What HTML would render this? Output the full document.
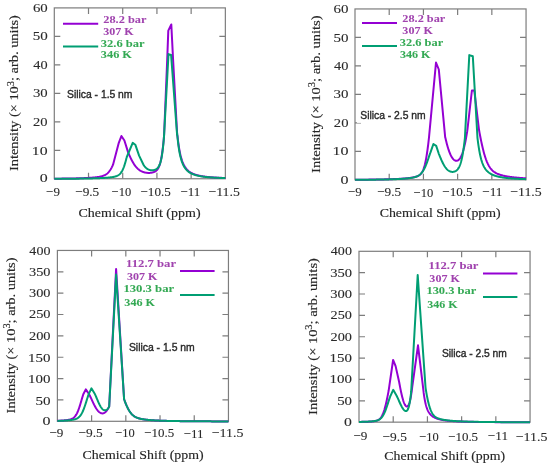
<!DOCTYPE html>
<html><head><meta charset="utf-8"><style>
html,body{margin:0;padding:0;background:#fff;}
svg{display:block;will-change:transform;filter:blur(0.35px);}
text{font-family:"Liberation Serif",serif;}
.t{fill:#2a2a2a;font-size:13.5px;stroke:#2a2a2a;stroke-width:0.1px;}
.lab{fill:#262626;font-size:13.2px;stroke:#262626;stroke-width:0.15px;}
.leg{font-weight:bold;font-size:11.1px;stroke-width:0.05px;}
.sil{fill:#2a2a2a;font-family:"Liberation Sans",sans-serif;font-size:11.6px;stroke:#2a2a2a;stroke-width:0.4px;}
</style></head><body>
<svg width="550" height="465" viewBox="0 0 550 465">
<rect x="54.30" y="7.90" width="171.05" height="170.85" fill="none" stroke="#7d7d7d" stroke-width="1.2"/>
<path d="M54.30 150.28h6M225.35 150.28h-6M54.30 121.80h6M225.35 121.80h-6M54.30 93.33h6M225.35 93.33h-6M54.30 64.85h6M225.35 64.85h-6M54.30 36.38h6M225.35 36.38h-6M88.51 178.75v-6M88.51 7.90v6M122.72 178.75v-6M122.72 7.90v6M156.93 178.75v-6M156.93 7.90v6M191.14 178.75v-6M191.14 7.90v6" stroke="#7d7d7d" stroke-width="1.2" fill="none"/>
<path d="M54.30 178.70 L54.64 178.70 L54.98 178.69 L55.33 178.69 L55.67 178.69 L56.01 178.68 L56.35 178.68 L56.69 178.68 L57.04 178.67 L57.38 178.67 L57.72 178.67 L58.06 178.66 L58.41 178.66 L58.75 178.66 L59.09 178.65 L59.43 178.65 L59.77 178.64 L60.12 178.64 L60.46 178.64 L60.80 178.63 L61.14 178.63 L61.48 178.63 L61.83 178.62 L62.17 178.62 L62.51 178.61 L62.85 178.61 L63.19 178.60 L63.54 178.60 L63.88 178.59 L64.22 178.59 L64.56 178.59 L64.91 178.58 L65.25 178.58 L65.59 178.57 L65.93 178.57 L66.27 178.56 L66.62 178.56 L66.96 178.55 L67.30 178.55 L67.64 178.54 L67.98 178.53 L68.33 178.53 L68.67 178.52 L69.01 178.52 L69.35 178.51 L69.69 178.51 L70.04 178.50 L70.38 178.49 L70.72 178.49 L71.06 178.48 L71.41 178.47 L71.75 178.47 L72.09 178.46 L72.43 178.45 L72.77 178.45 L73.12 178.44 L73.46 178.43 L73.80 178.42 L74.14 178.42 L74.48 178.41 L74.83 178.40 L75.17 178.39 L75.51 178.38 L75.85 178.38 L76.19 178.37 L76.54 178.36 L76.88 178.35 L77.22 178.34 L77.56 178.33 L77.90 178.32 L78.25 178.31 L78.59 178.30 L78.93 178.29 L79.27 178.28 L79.62 178.27 L79.96 178.26 L80.30 178.25 L80.64 178.24 L80.98 178.23 L81.33 178.22 L81.67 178.20 L82.01 178.19 L82.35 178.18 L82.69 178.17 L83.04 178.15 L83.38 178.14 L83.72 178.13 L84.06 178.11 L84.40 178.10 L84.75 178.08 L85.09 178.07 L85.43 178.05 L85.77 178.04 L86.12 178.02 L86.46 178.00 L86.80 177.99 L87.14 177.97 L87.48 177.95 L87.83 177.93 L88.17 177.91 L88.51 177.89 L88.85 177.87 L89.19 177.85 L89.54 177.83 L89.88 177.81 L90.22 177.79 L90.56 177.76 L90.90 177.74 L91.25 177.71 L91.59 177.69 L91.93 177.66 L92.27 177.64 L92.62 177.61 L92.96 177.58 L93.30 177.55 L93.64 177.52 L93.98 177.49 L94.33 177.45 L94.67 177.42 L95.01 177.39 L95.35 177.35 L95.69 177.31 L96.04 177.27 L96.38 177.23 L96.72 177.19 L97.06 177.15 L97.40 177.10 L97.75 177.05 L98.09 177.00 L98.43 176.95 L98.77 176.89 L99.12 176.84 L99.46 176.78 L99.80 176.71 L100.14 176.64 L100.48 176.57 L100.83 176.50 L101.17 176.41 L101.51 176.33 L101.85 176.24 L102.19 176.14 L102.54 176.04 L102.88 175.92 L103.22 175.80 L103.56 175.68 L103.90 175.54 L104.25 175.39 L104.59 175.23 L104.93 175.06 L105.27 174.87 L105.61 174.68 L105.96 174.46 L106.30 174.23 L106.64 173.98 L106.98 173.72 L107.33 173.43 L107.67 173.12 L108.01 172.79 L108.35 172.44 L108.69 172.06 L109.04 171.66 L109.38 171.22 L109.72 170.76 L110.06 170.27 L110.40 169.75 L110.75 169.20 L111.09 168.61 L111.43 168.00 L111.77 167.35 L112.11 166.66 L112.46 165.95 L112.80 165.19 L113.10 164.50 L118.80 142.80 L121.40 136.00 L124.40 140.50 L128.20 152.60 L128.54 153.35 L128.88 154.12 L129.22 154.89 L129.56 155.66 L129.90 156.41 L130.25 157.15 L130.59 157.87 L130.93 158.58 L131.27 159.27 L131.61 159.94 L131.96 160.60 L132.30 161.23 L132.64 161.85 L132.98 162.44 L133.33 163.02 L133.67 163.57 L134.01 164.11 L134.35 164.62 L134.69 165.11 L135.04 165.58 L135.38 166.04 L135.72 166.47 L136.06 166.89 L136.40 167.28 L136.75 167.66 L137.09 168.02 L137.43 168.36 L137.77 168.69 L138.11 169.00 L138.46 169.29 L138.80 169.57 L139.14 169.84 L139.48 170.09 L139.82 170.32 L140.17 170.54 L140.51 170.75 L140.85 170.95 L141.19 171.14 L141.54 171.31 L141.88 171.47 L142.22 171.63 L142.56 171.77 L142.90 171.90 L143.25 172.02 L143.59 172.14 L143.93 172.24 L144.27 172.34 L144.61 172.42 L144.96 172.50 L145.30 172.58 L145.64 172.64 L145.98 172.70 L146.32 172.75 L146.67 172.79 L147.01 172.83 L147.35 172.86 L147.69 172.88 L148.04 172.90 L148.38 172.91 L148.72 172.91 L149.06 172.91 L149.40 172.90 L149.75 172.88 L150.09 172.86 L150.43 172.83 L150.77 172.79 L151.11 172.74 L151.46 172.69 L151.80 172.63 L152.14 172.56 L152.48 172.48 L152.82 172.39 L153.17 172.29 L153.51 172.18 L153.85 172.06 L154.19 171.92 L154.54 171.76 L154.88 171.59 L155.22 171.40 L155.56 171.18 L155.90 170.94 L156.25 170.67 L156.59 170.36 L156.93 170.01 L157.27 169.61 L157.61 169.16 L157.96 168.66 L158.30 168.08 L158.64 167.42 L158.98 166.67 L159.32 165.82 L159.67 164.85 L160.01 163.76 L160.35 162.52 L160.69 161.13 L161.04 159.56 L161.38 157.81 L161.72 155.85 L162.06 153.67 L162.40 151.26 L162.75 148.60 L163.09 145.68 L163.43 142.50 L163.77 139.04 L164.10 135.00 L167.20 60.00 L168.30 30.60 L171.30 24.50 L173.10 60.00 L177.20 135.00 L177.46 135.57 L177.80 138.69 L178.14 141.52 L178.48 144.09 L178.82 146.43 L179.17 148.56 L179.51 150.50 L179.85 152.28 L180.19 153.90 L180.53 155.39 L180.88 156.76 L181.22 158.01 L181.56 159.17 L181.90 160.23 L182.25 161.22 L182.59 162.13 L182.93 162.97 L183.27 163.75 L183.61 164.48 L183.96 165.16 L184.30 165.79 L184.64 166.38 L184.98 166.93 L185.32 167.45 L185.67 167.93 L186.01 168.39 L186.35 168.81 L186.69 169.22 L187.03 169.59 L187.38 169.95 L187.72 170.29 L188.06 170.60 L188.40 170.91 L188.75 171.19 L189.09 171.46 L189.43 171.71 L189.77 171.96 L190.11 172.19 L190.46 172.41 L190.80 172.62 L191.14 172.81 L191.48 173.00 L191.82 173.18 L192.17 173.36 L192.51 173.52 L192.85 173.68 L193.19 173.83 L193.53 173.97 L193.88 174.11 L194.22 174.24 L194.56 174.37 L194.90 174.49 L195.25 174.61 L195.59 174.72 L195.93 174.83 L196.27 174.93 L196.61 175.03 L196.96 175.13 L197.30 175.22 L197.64 175.31 L197.98 175.40 L198.32 175.48 L198.67 175.56 L199.01 175.64 L199.35 175.71 L199.69 175.78 L200.03 175.85 L200.38 175.92 L200.72 175.98 L201.06 176.05 L201.40 176.11 L201.75 176.17 L202.09 176.23 L202.43 176.28 L202.77 176.33 L203.11 176.39 L203.46 176.44 L203.80 176.49 L204.14 176.53 L204.48 176.58 L204.82 176.63 L205.17 176.67 L205.51 176.71 L205.85 176.75 L206.19 176.79 L206.53 176.83 L206.88 176.87 L207.22 176.91 L207.56 176.94 L207.90 176.98 L208.25 177.01 L208.59 177.04 L208.93 177.08 L209.27 177.11 L209.61 177.14 L209.96 177.17 L210.30 177.20 L210.64 177.23 L210.98 177.26 L211.32 177.28 L211.67 177.31 L212.01 177.34 L212.35 177.36 L212.69 177.39 L213.03 177.41 L213.38 177.43 L213.72 177.46 L214.06 177.48 L214.40 177.50 L214.74 177.52 L215.09 177.54 L215.43 177.56 L215.77 177.58 L216.11 177.60 L216.46 177.62 L216.80 177.64 L217.14 177.66 L217.48 177.68 L217.82 177.70 L218.17 177.71 L218.51 177.73 L218.85 177.75 L219.19 177.76 L219.53 177.78 L219.88 177.80 L220.22 177.81 L220.56 177.83 L220.90 177.84 L221.24 177.86 L221.59 177.87 L221.93 177.89 L222.27 177.90 L222.61 177.91 L222.96 177.93 L223.30 177.94 L223.64 177.95 L223.98 177.96 L224.32 177.98 L224.67 177.99 L225.01 178.00 L225.35 178.01" stroke="#9400d3" stroke-width="2" fill="none" stroke-linejoin="round"/>
<path d="M54.30 178.82 L54.64 178.82 L54.98 178.82 L55.33 178.82 L55.67 178.82 L56.01 178.81 L56.35 178.81 L56.69 178.81 L57.04 178.81 L57.38 178.81 L57.72 178.80 L58.06 178.80 L58.41 178.80 L58.75 178.80 L59.09 178.80 L59.43 178.80 L59.77 178.79 L60.12 178.79 L60.46 178.79 L60.80 178.79 L61.14 178.79 L61.48 178.78 L61.83 178.78 L62.17 178.78 L62.51 178.78 L62.85 178.77 L63.19 178.77 L63.54 178.77 L63.88 178.77 L64.22 178.77 L64.56 178.76 L64.91 178.76 L65.25 178.76 L65.59 178.76 L65.93 178.75 L66.27 178.75 L66.62 178.75 L66.96 178.75 L67.30 178.74 L67.64 178.74 L67.98 178.74 L68.33 178.74 L68.67 178.73 L69.01 178.73 L69.35 178.73 L69.69 178.72 L70.04 178.72 L70.38 178.72 L70.72 178.72 L71.06 178.71 L71.41 178.71 L71.75 178.71 L72.09 178.70 L72.43 178.70 L72.77 178.70 L73.12 178.69 L73.46 178.69 L73.80 178.69 L74.14 178.68 L74.48 178.68 L74.83 178.68 L75.17 178.67 L75.51 178.67 L75.85 178.67 L76.19 178.66 L76.54 178.66 L76.88 178.65 L77.22 178.65 L77.56 178.65 L77.90 178.64 L78.25 178.64 L78.59 178.63 L78.93 178.63 L79.27 178.63 L79.62 178.62 L79.96 178.62 L80.30 178.61 L80.64 178.61 L80.98 178.60 L81.33 178.60 L81.67 178.59 L82.01 178.59 L82.35 178.58 L82.69 178.58 L83.04 178.57 L83.38 178.57 L83.72 178.56 L84.06 178.56 L84.40 178.55 L84.75 178.55 L85.09 178.54 L85.43 178.53 L85.77 178.53 L86.12 178.52 L86.46 178.52 L86.80 178.51 L87.14 178.50 L87.48 178.50 L87.83 178.49 L88.17 178.48 L88.51 178.48 L88.85 178.47 L89.19 178.46 L89.54 178.45 L89.88 178.45 L90.22 178.44 L90.56 178.43 L90.90 178.42 L91.25 178.42 L91.59 178.41 L91.93 178.40 L92.27 178.39 L92.62 178.38 L92.96 178.37 L93.30 178.36 L93.64 178.35 L93.98 178.34 L94.33 178.33 L94.67 178.32 L95.01 178.31 L95.35 178.30 L95.69 178.29 L96.04 178.28 L96.38 178.27 L96.72 178.26 L97.06 178.24 L97.40 178.23 L97.75 178.22 L98.09 178.21 L98.43 178.19 L98.77 178.18 L99.12 178.17 L99.46 178.15 L99.80 178.14 L100.14 178.12 L100.48 178.11 L100.83 178.09 L101.17 178.07 L101.51 178.06 L101.85 178.04 L102.19 178.02 L102.54 178.00 L102.88 177.98 L103.22 177.96 L103.56 177.94 L103.90 177.92 L104.25 177.90 L104.59 177.88 L104.93 177.86 L105.27 177.83 L105.61 177.81 L105.96 177.78 L106.30 177.76 L106.64 177.73 L106.98 177.70 L107.33 177.68 L107.67 177.65 L108.01 177.62 L108.35 177.58 L108.69 177.55 L109.04 177.52 L109.38 177.48 L109.72 177.44 L110.06 177.40 L110.40 177.36 L110.75 177.32 L111.09 177.28 L111.43 177.23 L111.77 177.18 L112.11 177.13 L112.46 177.08 L112.80 177.02 L113.14 176.96 L113.48 176.90 L113.83 176.83 L114.17 176.76 L114.51 176.68 L114.85 176.60 L115.19 176.51 L115.54 176.42 L115.88 176.31 L116.22 176.20 L116.56 176.07 L116.90 175.94 L117.25 175.79 L117.59 175.62 L117.93 175.44 L118.27 175.24 L118.61 175.02 L118.96 174.77 L119.30 174.50 L119.64 174.20 L119.98 173.87 L120.33 173.51 L120.67 173.10 L121.01 172.66 L121.35 172.17 L121.69 171.64 L122.04 171.05 L122.38 170.41 L122.72 169.72 L123.06 168.96 L123.40 168.15 L123.75 167.28 L124.09 166.34 L124.43 165.33 L124.77 164.27 L125.11 163.14 L125.46 161.95 L125.80 160.70 L126.14 159.39 L126.48 158.03 L126.60 157.50 L132.70 142.80 L135.30 144.70 L139.10 155.60 L143.60 165.00 L143.93 165.44 L144.27 165.91 L144.61 166.35 L144.96 166.76 L145.30 167.13 L145.64 167.49 L145.98 167.81 L146.32 168.11 L146.67 168.39 L147.01 168.64 L147.35 168.87 L147.69 169.09 L148.04 169.28 L148.38 169.45 L148.72 169.61 L149.06 169.75 L149.40 169.87 L149.75 169.97 L150.09 170.06 L150.43 170.14 L150.77 170.20 L151.11 170.24 L151.46 170.27 L151.80 170.29 L152.14 170.29 L152.48 170.28 L152.82 170.25 L153.17 170.21 L153.51 170.16 L153.85 170.09 L154.19 170.00 L154.54 169.89 L154.88 169.77 L155.22 169.63 L155.56 169.47 L155.90 169.28 L156.25 169.08 L156.59 168.84 L156.93 168.57 L157.27 168.26 L157.61 167.92 L157.96 167.53 L158.30 167.08 L158.64 166.57 L158.98 165.98 L159.32 165.31 L159.67 164.53 L160.01 163.64 L160.35 162.62 L160.69 161.44 L161.04 160.07 L161.38 158.51 L161.72 156.72 L162.06 154.66 L162.40 152.32 L162.75 149.67 L163.09 146.66 L163.43 143.28 L163.77 139.50 L164.10 135.00 L168.50 54.10 L171.10 54.90 L177.10 135.00 L177.11 133.35 L177.46 137.00 L177.80 140.26 L178.14 143.19 L178.48 145.81 L178.82 148.17 L179.17 150.30 L179.51 152.23 L179.85 153.98 L180.19 155.56 L180.53 157.01 L180.88 158.33 L181.22 159.53 L181.56 160.64 L181.90 161.65 L182.25 162.58 L182.59 163.45 L182.93 164.24 L183.27 164.98 L183.61 165.66 L183.96 166.29 L184.30 166.88 L184.64 167.43 L184.98 167.95 L185.32 168.43 L185.67 168.87 L186.01 169.30 L186.35 169.69 L186.69 170.06 L187.03 170.41 L187.38 170.74 L187.72 171.05 L188.06 171.34 L188.40 171.62 L188.75 171.88 L189.09 172.12 L189.43 172.36 L189.77 172.58 L190.11 172.79 L190.46 172.99 L190.80 173.18 L191.14 173.37 L191.48 173.54 L191.82 173.70 L192.17 173.86 L192.51 174.01 L192.85 174.16 L193.19 174.29 L193.53 174.43 L193.88 174.55 L194.22 174.67 L194.56 174.79 L194.90 174.90 L195.25 175.01 L195.59 175.11 L195.93 175.21 L196.27 175.30 L196.61 175.39 L196.96 175.48 L197.30 175.57 L197.64 175.65 L197.98 175.73 L198.32 175.80 L198.67 175.87 L199.01 175.94 L199.35 176.01 L199.69 176.08 L200.03 176.14 L200.38 176.20 L200.72 176.26 L201.06 176.32 L201.40 176.38 L201.75 176.43 L202.09 176.48 L202.43 176.53 L202.77 176.58 L203.11 176.63 L203.46 176.68 L203.80 176.72 L204.14 176.76 L204.48 176.81 L204.82 176.85 L205.17 176.89 L205.51 176.93 L205.85 176.96 L206.19 177.00 L206.53 177.04 L206.88 177.07 L207.22 177.10 L207.56 177.14 L207.90 177.17 L208.25 177.20 L208.59 177.23 L208.93 177.26 L209.27 177.29 L209.61 177.32 L209.96 177.34 L210.30 177.37 L210.64 177.40 L210.98 177.42 L211.32 177.45 L211.67 177.47 L212.01 177.50 L212.35 177.52 L212.69 177.54 L213.03 177.56 L213.38 177.59 L213.72 177.61 L214.06 177.63 L214.40 177.65 L214.74 177.67 L215.09 177.69 L215.43 177.71 L215.77 177.72 L216.11 177.74 L216.46 177.76 L216.80 177.78 L217.14 177.79 L217.48 177.81 L217.82 177.83 L218.17 177.84 L218.51 177.86 L218.85 177.87 L219.19 177.89 L219.53 177.90 L219.88 177.92 L220.22 177.93 L220.56 177.95 L220.90 177.96 L221.24 177.97 L221.59 177.99 L221.93 178.00 L222.27 178.01 L222.61 178.02 L222.96 178.04 L223.30 178.05 L223.64 178.06 L223.98 178.07 L224.32 178.08 L224.67 178.09 L225.01 178.10 L225.35 178.12" stroke="#009e73" stroke-width="2" fill="none" stroke-linejoin="round"/>
<rect x="355.00" y="8.95" width="171.05" height="170.85" fill="none" stroke="#7d7d7d" stroke-width="1.2"/>
<path d="M355.00 151.32h6M526.05 151.32h-6M355.00 122.85h6M526.05 122.85h-6M355.00 94.37h6M526.05 94.37h-6M355.00 65.90h6M526.05 65.90h-6M355.00 37.42h6M526.05 37.42h-6M389.21 179.80v-6M389.21 8.95v6M423.42 179.80v-6M423.42 8.95v6M457.63 179.80v-6M457.63 8.95v6M491.84 179.80v-6M491.84 8.95v6" stroke="#7d7d7d" stroke-width="1.2" fill="none"/>
<path d="M355.00 179.75 L355.34 179.75 L355.68 179.74 L356.03 179.74 L356.37 179.74 L356.71 179.74 L357.05 179.73 L357.39 179.73 L357.74 179.73 L358.08 179.73 L358.42 179.72 L358.76 179.72 L359.11 179.72 L359.45 179.72 L359.79 179.71 L360.13 179.71 L360.47 179.71 L360.82 179.70 L361.16 179.70 L361.50 179.70 L361.84 179.69 L362.18 179.69 L362.53 179.69 L362.87 179.68 L363.21 179.68 L363.55 179.68 L363.89 179.68 L364.24 179.67 L364.58 179.67 L364.92 179.67 L365.26 179.66 L365.61 179.66 L365.95 179.65 L366.29 179.65 L366.63 179.65 L366.97 179.64 L367.32 179.64 L367.66 179.64 L368.00 179.63 L368.34 179.63 L368.68 179.62 L369.03 179.62 L369.37 179.62 L369.71 179.61 L370.05 179.61 L370.39 179.60 L370.74 179.60 L371.08 179.60 L371.42 179.59 L371.76 179.59 L372.11 179.58 L372.45 179.58 L372.79 179.57 L373.13 179.57 L373.47 179.56 L373.82 179.56 L374.16 179.55 L374.50 179.55 L374.84 179.54 L375.18 179.54 L375.53 179.53 L375.87 179.53 L376.21 179.52 L376.55 179.52 L376.89 179.51 L377.24 179.51 L377.58 179.50 L377.92 179.50 L378.26 179.49 L378.60 179.48 L378.95 179.48 L379.29 179.47 L379.63 179.47 L379.97 179.46 L380.32 179.45 L380.66 179.45 L381.00 179.44 L381.34 179.43 L381.68 179.43 L382.03 179.42 L382.37 179.41 L382.71 179.41 L383.05 179.40 L383.39 179.39 L383.74 179.38 L384.08 179.38 L384.42 179.37 L384.76 179.36 L385.10 179.35 L385.45 179.34 L385.79 179.34 L386.13 179.33 L386.47 179.32 L386.82 179.31 L387.16 179.30 L387.50 179.29 L387.84 179.28 L388.18 179.27 L388.53 179.26 L388.87 179.25 L389.21 179.24 L389.55 179.23 L389.89 179.22 L390.24 179.21 L390.58 179.20 L390.92 179.19 L391.26 179.18 L391.60 179.17 L391.95 179.16 L392.29 179.15 L392.63 179.13 L392.97 179.12 L393.32 179.11 L393.66 179.10 L394.00 179.08 L394.34 179.07 L394.68 179.06 L395.03 179.04 L395.37 179.03 L395.71 179.01 L396.05 179.00 L396.39 178.98 L396.74 178.97 L397.08 178.95 L397.42 178.93 L397.76 178.92 L398.10 178.90 L398.45 178.88 L398.79 178.87 L399.13 178.85 L399.47 178.83 L399.82 178.81 L400.16 178.79 L400.50 178.77 L400.84 178.75 L401.18 178.73 L401.53 178.70 L401.87 178.68 L402.21 178.66 L402.55 178.64 L402.89 178.61 L403.24 178.59 L403.58 178.56 L403.92 178.53 L404.26 178.51 L404.60 178.48 L404.95 178.45 L405.29 178.42 L405.63 178.39 L405.97 178.36 L406.31 178.33 L406.66 178.29 L407.00 178.26 L407.34 178.22 L407.68 178.19 L408.03 178.15 L408.37 178.11 L408.71 178.07 L409.05 178.03 L409.39 177.98 L409.74 177.94 L410.08 177.89 L410.42 177.85 L410.76 177.80 L411.10 177.75 L411.45 177.69 L411.79 177.64 L412.13 177.58 L412.47 177.52 L412.81 177.46 L413.16 177.39 L413.50 177.32 L413.84 177.25 L414.18 177.18 L414.53 177.10 L414.87 177.02 L415.21 176.93 L415.55 176.84 L415.89 176.74 L416.24 176.63 L416.58 176.52 L416.92 176.40 L417.26 176.27 L417.60 176.13 L417.95 175.98 L418.29 175.81 L418.63 175.63 L418.97 175.43 L419.31 175.20 L419.66 174.95 L420.00 174.68 L420.34 174.37 L420.68 174.03 L421.03 173.64 L421.37 173.21 L421.71 172.72 L422.05 172.18 L422.39 171.57 L422.74 170.89 L423.08 170.13 L423.42 169.28 L423.76 168.33 L424.10 167.28 L424.45 166.12 L424.79 164.84 L425.13 163.43 L425.47 161.89 L425.81 160.21 L426.16 158.38 L426.50 156.40 L426.84 154.28 L427.18 152.00 L427.53 149.57 L427.87 147.00 L428.21 144.28 L428.55 141.43 L428.89 138.46 L429.00 137.30 L436.00 62.50 L438.80 69.50 L445.20 137.30 L445.31 137.48 L445.66 138.99 L446.00 140.44 L446.34 141.85 L446.68 143.20 L447.02 144.49 L447.37 145.74 L447.71 146.93 L448.05 148.06 L448.39 149.14 L448.74 150.17 L449.08 151.15 L449.42 152.07 L449.76 152.94 L450.10 153.76 L450.45 154.54 L450.79 155.26 L451.13 155.93 L451.47 156.56 L451.81 157.14 L452.16 157.68 L452.50 158.17 L452.84 158.61 L453.18 159.02 L453.52 159.38 L453.87 159.70 L454.21 159.98 L454.55 160.21 L454.89 160.41 L455.24 160.57 L455.58 160.68 L455.92 160.76 L456.26 160.79 L456.60 160.79 L456.95 160.74 L457.29 160.65 L457.63 160.52 L457.97 160.34 L458.31 160.11 L458.66 159.84 L459.00 159.52 L459.34 159.15 L459.68 158.73 L460.02 158.25 L460.37 157.71 L460.71 157.11 L461.05 156.45 L461.39 155.73 L461.74 154.93 L462.08 154.07 L462.42 153.13 L462.76 152.12 L463.10 151.03 L463.45 149.85 L463.79 148.60 L464.13 147.25 L464.47 145.82 L464.81 144.30 L465.16 142.69 L465.50 140.99 L465.84 139.20 L466.18 137.33 L466.52 135.37 L466.87 133.34 L467.21 131.23 L467.40 129.80 L471.90 90.50 L474.30 90.50 L479.00 129.80 L479.18 130.80 L479.52 132.63 L479.87 134.44 L480.21 136.22 L480.55 137.97 L480.89 139.68 L481.23 141.34 L481.58 142.97 L481.92 144.54 L482.26 146.07 L482.60 147.55 L482.95 148.98 L483.29 150.35 L483.63 151.68 L483.97 152.95 L484.31 154.17 L484.66 155.33 L485.00 156.45 L485.34 157.51 L485.68 158.53 L486.02 159.49 L486.37 160.41 L486.71 161.28 L487.05 162.11 L487.39 162.89 L487.73 163.64 L488.08 164.34 L488.42 165.00 L488.76 165.63 L489.10 166.22 L489.45 166.78 L489.79 167.31 L490.13 167.81 L490.47 168.28 L490.81 168.72 L491.16 169.13 L491.50 169.53 L491.84 169.90 L492.18 170.24 L492.52 170.57 L492.87 170.88 L493.21 171.18 L493.55 171.45 L493.89 171.72 L494.23 171.96 L494.58 172.20 L494.92 172.42 L495.26 172.63 L495.60 172.83 L495.95 173.02 L496.29 173.20 L496.63 173.38 L496.97 173.54 L497.31 173.70 L497.66 173.85 L498.00 173.99 L498.34 174.13 L498.68 174.26 L499.02 174.39 L499.37 174.51 L499.71 174.63 L500.05 174.74 L500.39 174.85 L500.73 174.96 L501.08 175.06 L501.42 175.16 L501.76 175.25 L502.10 175.34 L502.45 175.43 L502.79 175.52 L503.13 175.60 L503.47 175.69 L503.81 175.76 L504.16 175.84 L504.50 175.91 L504.84 175.99 L505.18 176.06 L505.52 176.13 L505.87 176.19 L506.21 176.26 L506.55 176.32 L506.89 176.38 L507.23 176.44 L507.58 176.50 L507.92 176.56 L508.26 176.61 L508.60 176.67 L508.94 176.72 L509.29 176.77 L509.63 176.82 L509.97 176.87 L510.31 176.92 L510.66 176.97 L511.00 177.01 L511.34 177.06 L511.68 177.10 L512.02 177.14 L512.37 177.18 L512.71 177.23 L513.05 177.27 L513.39 177.30 L513.73 177.34 L514.08 177.38 L514.42 177.42 L514.76 177.45 L515.10 177.49 L515.44 177.52 L515.79 177.56 L516.13 177.59 L516.47 177.62 L516.81 177.65 L517.16 177.69 L517.50 177.72 L517.84 177.75 L518.18 177.77 L518.52 177.80 L518.87 177.83 L519.21 177.86 L519.55 177.89 L519.89 177.91 L520.23 177.94 L520.58 177.96 L520.92 177.99 L521.26 178.01 L521.60 178.04 L521.94 178.06 L522.29 178.09 L522.63 178.11 L522.97 178.13 L523.31 178.15 L523.66 178.18 L524.00 178.20 L524.34 178.22 L524.68 178.24 L525.02 178.26 L525.37 178.28 L525.71 178.30 L526.05 178.32" stroke="#9400d3" stroke-width="2" fill="none" stroke-linejoin="round"/>
<path d="M355.00 179.82 L355.34 179.82 L355.68 179.81 L356.03 179.81 L356.37 179.81 L356.71 179.81 L357.05 179.80 L357.39 179.80 L357.74 179.80 L358.08 179.80 L358.42 179.80 L358.76 179.79 L359.11 179.79 L359.45 179.79 L359.79 179.79 L360.13 179.78 L360.47 179.78 L360.82 179.78 L361.16 179.78 L361.50 179.77 L361.84 179.77 L362.18 179.77 L362.53 179.76 L362.87 179.76 L363.21 179.76 L363.55 179.76 L363.89 179.75 L364.24 179.75 L364.58 179.75 L364.92 179.75 L365.26 179.74 L365.61 179.74 L365.95 179.74 L366.29 179.73 L366.63 179.73 L366.97 179.73 L367.32 179.72 L367.66 179.72 L368.00 179.72 L368.34 179.71 L368.68 179.71 L369.03 179.71 L369.37 179.70 L369.71 179.70 L370.05 179.70 L370.39 179.69 L370.74 179.69 L371.08 179.69 L371.42 179.68 L371.76 179.68 L372.11 179.67 L372.45 179.67 L372.79 179.67 L373.13 179.66 L373.47 179.66 L373.82 179.65 L374.16 179.65 L374.50 179.64 L374.84 179.64 L375.18 179.64 L375.53 179.63 L375.87 179.63 L376.21 179.62 L376.55 179.62 L376.89 179.61 L377.24 179.61 L377.58 179.60 L377.92 179.60 L378.26 179.59 L378.60 179.59 L378.95 179.58 L379.29 179.58 L379.63 179.57 L379.97 179.57 L380.32 179.56 L380.66 179.55 L381.00 179.55 L381.34 179.54 L381.68 179.54 L382.03 179.53 L382.37 179.52 L382.71 179.52 L383.05 179.51 L383.39 179.50 L383.74 179.50 L384.08 179.49 L384.42 179.48 L384.76 179.48 L385.10 179.47 L385.45 179.46 L385.79 179.45 L386.13 179.45 L386.47 179.44 L386.82 179.43 L387.16 179.42 L387.50 179.41 L387.84 179.41 L388.18 179.40 L388.53 179.39 L388.87 179.38 L389.21 179.37 L389.55 179.36 L389.89 179.35 L390.24 179.34 L390.58 179.33 L390.92 179.32 L391.26 179.31 L391.60 179.30 L391.95 179.29 L392.29 179.28 L392.63 179.27 L392.97 179.26 L393.32 179.25 L393.66 179.23 L394.00 179.22 L394.34 179.21 L394.68 179.20 L395.03 179.18 L395.37 179.17 L395.71 179.16 L396.05 179.14 L396.39 179.13 L396.74 179.11 L397.08 179.10 L397.42 179.08 L397.76 179.07 L398.10 179.05 L398.45 179.04 L398.79 179.02 L399.13 179.00 L399.47 178.98 L399.82 178.97 L400.16 178.95 L400.50 178.93 L400.84 178.91 L401.18 178.89 L401.53 178.87 L401.87 178.85 L402.21 178.82 L402.55 178.80 L402.89 178.78 L403.24 178.75 L403.58 178.73 L403.92 178.70 L404.26 178.68 L404.60 178.65 L404.95 178.62 L405.29 178.60 L405.63 178.57 L405.97 178.54 L406.31 178.50 L406.66 178.47 L407.00 178.44 L407.34 178.40 L407.68 178.37 L408.03 178.33 L408.37 178.29 L408.71 178.25 L409.05 178.21 L409.39 178.17 L409.74 178.12 L410.08 178.08 L410.42 178.03 L410.76 177.98 L411.10 177.92 L411.45 177.87 L411.79 177.81 L412.13 177.75 L412.47 177.69 L412.81 177.62 L413.16 177.55 L413.50 177.47 L413.84 177.40 L414.18 177.31 L414.53 177.22 L414.87 177.13 L415.21 177.03 L415.55 176.92 L415.89 176.80 L416.24 176.68 L416.58 176.54 L416.92 176.40 L417.26 176.25 L417.60 176.08 L417.95 175.90 L418.29 175.71 L418.63 175.50 L418.97 175.28 L419.31 175.04 L419.66 174.78 L420.00 174.50 L420.34 174.20 L420.68 173.87 L421.03 173.52 L421.37 173.15 L421.71 172.75 L422.05 172.32 L422.39 171.86 L422.74 171.37 L423.08 170.84 L423.42 170.29 L423.76 169.69 L424.10 169.07 L424.45 168.41 L424.79 167.71 L425.13 166.98 L425.47 166.22 L425.81 165.42 L426.16 164.58 L426.50 163.71 L426.84 162.82 L427.18 161.89 L427.53 160.94 L427.87 159.96 L428.21 158.97 L428.55 157.96 L428.89 156.94 L429.24 155.92 L429.58 154.91 L429.92 153.91 L430.26 152.93 L430.50 152.30 L433.40 144.00 L436.20 145.90 L438.80 153.80 L438.81 153.84 L439.16 154.66 L439.50 155.48 L439.84 156.31 L440.18 157.13 L440.52 157.95 L440.87 158.75 L441.21 159.54 L441.55 160.32 L441.89 161.07 L442.24 161.80 L442.58 162.51 L442.92 163.20 L443.26 163.86 L443.60 164.49 L443.95 165.10 L444.29 165.68 L444.63 166.23 L444.97 166.76 L445.31 167.25 L445.66 167.72 L446.00 168.16 L446.34 168.57 L446.68 168.96 L447.02 169.31 L447.37 169.65 L447.71 169.95 L448.05 170.23 L448.39 170.49 L448.74 170.72 L449.08 170.93 L449.42 171.12 L449.76 171.29 L450.10 171.43 L450.45 171.56 L450.79 171.66 L451.13 171.74 L451.47 171.81 L451.81 171.85 L452.16 171.88 L452.50 171.89 L452.84 171.88 L453.18 171.85 L453.52 171.80 L453.87 171.74 L454.21 171.65 L454.55 171.54 L454.89 171.41 L455.24 171.26 L455.58 171.08 L455.92 170.88 L456.26 170.65 L456.60 170.38 L456.95 170.08 L457.29 169.74 L457.63 169.36 L457.97 168.93 L458.31 168.44 L458.66 167.90 L459.00 167.29 L459.34 166.61 L459.68 165.85 L460.02 165.00 L460.37 164.05 L460.71 163.00 L461.05 161.83 L461.39 160.54 L461.74 159.11 L462.08 157.54 L462.42 155.81 L462.76 153.92 L463.10 151.87 L463.45 149.64 L463.79 147.23 L464.13 144.63 L464.47 141.85 L464.81 138.88 L464.90 138.10 L469.30 55.10 L472.80 56.30 L477.50 138.10 L477.81 140.63 L478.16 143.26 L478.50 145.69 L478.84 147.95 L479.18 150.03 L479.52 151.95 L479.87 153.71 L480.21 155.34 L480.55 156.84 L480.89 158.22 L481.23 159.49 L481.58 160.66 L481.92 161.73 L482.26 162.73 L482.60 163.64 L482.95 164.48 L483.29 165.26 L483.63 165.98 L483.97 166.65 L484.31 167.27 L484.66 167.85 L485.00 168.39 L485.34 168.89 L485.68 169.36 L486.02 169.80 L486.37 170.21 L486.71 170.59 L487.05 170.96 L487.39 171.30 L487.73 171.62 L488.08 171.93 L488.42 172.22 L488.76 172.49 L489.10 172.75 L489.45 173.00 L489.79 173.23 L490.13 173.45 L490.47 173.66 L490.81 173.87 L491.16 174.06 L491.50 174.24 L491.84 174.42 L492.18 174.58 L492.52 174.74 L492.87 174.90 L493.21 175.04 L493.55 175.18 L493.89 175.32 L494.23 175.45 L494.58 175.57 L494.92 175.69 L495.26 175.80 L495.60 175.91 L495.95 176.02 L496.29 176.12 L496.63 176.22 L496.97 176.31 L497.31 176.40 L497.66 176.49 L498.00 176.57 L498.34 176.66 L498.68 176.73 L499.02 176.81 L499.37 176.88 L499.71 176.95 L500.05 177.02 L500.39 177.09 L500.73 177.15 L501.08 177.21 L501.42 177.27 L501.76 177.33 L502.10 177.39 L502.45 177.44 L502.79 177.50 L503.13 177.55 L503.47 177.60 L503.81 177.65 L504.16 177.69 L504.50 177.74 L504.84 177.78 L505.18 177.83 L505.52 177.87 L505.87 177.91 L506.21 177.95 L506.55 177.99 L506.89 178.02 L507.23 178.06 L507.58 178.09 L507.92 178.13 L508.26 178.16 L508.60 178.20 L508.94 178.23 L509.29 178.26 L509.63 178.29 L509.97 178.32 L510.31 178.35 L510.66 178.37 L511.00 178.40 L511.34 178.43 L511.68 178.45 L512.02 178.48 L512.37 178.50 L512.71 178.53 L513.05 178.55 L513.39 178.58 L513.73 178.60 L514.08 178.62 L514.42 178.64 L514.76 178.66 L515.10 178.68 L515.44 178.70 L515.79 178.72 L516.13 178.74 L516.47 178.76 L516.81 178.78 L517.16 178.80 L517.50 178.82 L517.84 178.83 L518.18 178.85 L518.52 178.87 L518.87 178.88 L519.21 178.90 L519.55 178.92 L519.89 178.93 L520.23 178.95 L520.58 178.96 L520.92 178.98 L521.26 178.99 L521.60 179.00 L521.94 179.02 L522.29 179.03 L522.63 179.04 L522.97 179.06 L523.31 179.07 L523.66 179.08 L524.00 179.09 L524.34 179.11 L524.68 179.12 L525.02 179.13 L525.37 179.14 L525.71 179.15 L526.05 179.16" stroke="#009e73" stroke-width="2" fill="none" stroke-linejoin="round"/>
<rect x="57.40" y="250.45" width="171.05" height="170.85" fill="none" stroke="#7d7d7d" stroke-width="1.2"/>
<path d="M57.40 399.94h6M228.45 399.94h-6M57.40 378.59h6M228.45 378.59h-6M57.40 357.23h6M228.45 357.23h-6M57.40 335.88h6M228.45 335.88h-6M57.40 314.52h6M228.45 314.52h-6M57.40 293.16h6M228.45 293.16h-6M57.40 271.81h6M228.45 271.81h-6M91.61 421.30v-6M91.61 250.45v6M125.82 421.30v-6M125.82 250.45v6M160.03 421.30v-6M160.03 250.45v6M194.24 421.30v-6M194.24 250.45v6" stroke="#7d7d7d" stroke-width="1.2" fill="none"/>
<path d="M57.40 420.80 L57.74 420.78 L58.08 420.77 L58.43 420.75 L58.77 420.73 L59.11 420.71 L59.45 420.70 L59.79 420.68 L60.14 420.66 L60.48 420.64 L60.82 420.61 L61.16 420.59 L61.51 420.57 L61.85 420.55 L62.19 420.52 L62.53 420.50 L62.87 420.47 L63.22 420.44 L63.56 420.41 L63.90 420.38 L64.24 420.35 L64.58 420.32 L64.93 420.29 L65.27 420.25 L65.61 420.21 L65.95 420.17 L66.29 420.13 L66.64 420.09 L66.98 420.04 L67.32 419.99 L67.66 419.94 L68.01 419.88 L68.35 419.82 L68.69 419.76 L69.03 419.69 L69.37 419.61 L69.72 419.53 L70.06 419.44 L70.40 419.34 L70.74 419.23 L71.08 419.11 L71.43 418.98 L71.77 418.83 L72.11 418.67 L72.45 418.49 L72.79 418.29 L73.14 418.07 L73.48 417.82 L73.82 417.55 L74.16 417.24 L74.50 416.91 L74.85 416.53 L75.19 416.12 L75.53 415.67 L75.87 415.18 L76.22 414.64 L76.56 414.05 L76.90 413.41 L77.24 412.72 L77.58 411.98 L77.93 411.18 L78.27 410.33 L78.61 409.43 L78.95 408.48 L79.29 407.48 L79.64 406.43 L79.98 405.34 L80.32 404.22 L80.66 403.07 L81.00 401.90 L81.35 400.71 L81.69 399.53 L82.03 398.35 L82.37 397.20 L82.72 396.10 L83.06 395.05 L83.30 394.30 L85.80 389.40 L88.20 392.80 L88.53 393.29 L88.87 393.86 L89.22 394.47 L89.56 395.12 L89.90 395.79 L90.24 396.49 L90.58 397.21 L90.93 397.94 L91.27 398.67 L91.61 399.42 L91.95 400.17 L92.29 400.91 L92.64 401.65 L92.98 402.38 L93.32 403.09 L93.66 403.80 L94.00 404.49 L94.35 405.16 L94.69 405.81 L95.03 406.44 L95.37 407.04 L95.72 407.63 L96.06 408.19 L96.40 408.72 L96.74 409.22 L97.08 409.70 L97.43 410.16 L97.77 410.58 L98.11 410.97 L98.45 411.34 L98.79 411.67 L99.14 411.98 L99.48 412.26 L99.82 412.51 L100.16 412.72 L100.50 412.91 L100.85 413.07 L101.19 413.19 L101.53 413.29 L101.87 413.35 L102.22 413.39 L102.56 413.39 L102.90 413.36 L103.24 413.29 L103.58 413.20 L103.93 413.07 L104.27 412.90 L104.61 412.70 L104.95 412.47 L105.29 412.20 L105.64 411.89 L105.98 411.54 L106.32 411.16 L106.66 410.75 L107.00 410.29 L107.35 409.79 L107.69 409.26 L108.03 408.69 L108.37 408.08 L108.72 407.44 L109.06 406.75 L109.20 406.50 L116.10 269.10 L124.10 399.40 L124.11 399.32 L124.45 400.25 L124.79 401.16 L125.14 402.05 L125.48 402.93 L125.82 403.78 L126.16 404.60 L126.50 405.40 L126.85 406.17 L127.19 406.91 L127.53 407.63 L127.87 408.31 L128.21 408.97 L128.56 409.59 L128.90 410.19 L129.24 410.76 L129.58 411.30 L129.93 411.81 L130.27 412.29 L130.61 412.75 L130.95 413.19 L131.29 413.60 L131.64 413.98 L131.98 414.34 L132.32 414.68 L132.66 415.00 L133.00 415.31 L133.35 415.59 L133.69 415.85 L134.03 416.10 L134.37 416.33 L134.71 416.55 L135.06 416.76 L135.40 416.95 L135.74 417.13 L136.08 417.30 L136.43 417.46 L136.77 417.61 L137.11 417.75 L137.45 417.88 L137.79 418.00 L138.14 418.12 L138.48 418.23 L138.82 418.33 L139.16 418.43 L139.50 418.53 L139.85 418.61 L140.19 418.70 L140.53 418.78 L140.87 418.85 L141.21 418.93 L141.56 419.00 L141.90 419.06 L142.24 419.13 L142.58 419.19 L142.93 419.24 L143.27 419.30 L143.61 419.35 L143.95 419.41 L144.29 419.45 L144.64 419.50 L144.98 419.55 L145.32 419.59 L145.66 419.64 L146.00 419.68 L146.35 419.72 L146.69 419.76 L147.03 419.79 L147.37 419.83 L147.71 419.87 L148.06 419.90 L148.40 419.93 L148.74 419.97 L149.08 420.00 L149.42 420.03 L149.77 420.06 L150.11 420.08 L150.45 420.11 L150.79 420.14 L151.14 420.17 L151.48 420.19 L151.82 420.22 L152.16 420.24 L152.50 420.26 L152.85 420.29 L153.19 420.31 L153.53 420.33 L153.87 420.35 L154.21 420.37 L154.56 420.39 L154.90 420.41 L155.24 420.43 L155.58 420.45 L155.92 420.47 L156.27 420.49 L156.61 420.50 L156.95 420.52 L157.29 420.54 L157.64 420.55 L157.98 420.57 L158.32 420.58 L158.66 420.60 L159.00 420.61 L159.35 420.63 L159.69 420.64 L160.03 420.66 L160.37 420.67 L160.71 420.68 L161.06 420.70 L161.40 420.71 L161.74 420.72 L162.08 420.73 L162.42 420.74 L162.77 420.76 L163.11 420.77 L163.45 420.78 L163.79 420.79 L164.14 420.80 L164.48 420.81 L164.82 420.82 L165.16 420.83 L165.50 420.84 L165.85 420.85 L166.19 420.86 L166.53 420.87 L166.87 420.88 L167.21 420.89 L167.56 420.90 L167.90 420.90 L168.24 420.91 L168.58 420.92 L168.92 420.93 L169.27 420.94 L169.61 420.95 L169.95 420.95 L170.29 420.96 L170.64 420.97 L170.98 420.98 L171.32 420.98 L171.66 420.99 L172.00 421.00 L172.35 421.00 L172.69 421.01 L173.03 421.02 L173.37 421.02 L173.71 421.03 L174.06 421.04 L174.40 421.04 L174.74 421.05 L175.08 421.05 L175.42 421.06 L175.77 421.07 L176.11 421.07 L176.45 421.08 L176.79 421.08 L177.14 421.09 L177.48 421.09 L177.82 421.10 L178.16 421.10 L178.50 421.11 L178.85 421.11 L179.19 421.12 L179.53 421.12 L179.87 421.13 L180.21 421.13 L180.56 421.14 L180.90 421.14 L181.24 421.15 L181.58 421.15 L181.92 421.15 L182.27 421.16 L182.61 421.16 L182.95 421.17 L183.29 421.17 L183.63 421.18 L183.98 421.18 L184.32 421.18 L184.66 421.19 L185.00 421.19 L185.35 421.19 L185.69 421.20 L186.03 421.20 L186.37 421.21 L186.71 421.21 L187.06 421.21 L187.40 421.22 L187.74 421.22 L188.08 421.22 L188.42 421.23 L188.77 421.23 L189.11 421.23 L189.45 421.24 L189.79 421.24 L190.13 421.24 L190.48 421.25 L190.82 421.25 L191.16 421.25 L191.50 421.25 L191.85 421.26 L192.19 421.26 L192.53 421.26 L192.87 421.27 L193.21 421.27 L193.56 421.27 L193.90 421.27 L194.24 421.28 L194.58 421.28 L194.92 421.28 L195.27 421.28 L195.61 421.29 L195.95 421.29 L196.29 421.29 L196.63 421.29 L196.98 421.30 L197.32 421.30 L197.66 421.30 L198.00 421.30 L198.35 421.31 L198.69 421.31 L199.03 421.31 L199.37 421.31 L199.71 421.31 L200.06 421.32 L200.40 421.32 L200.74 421.32 L201.08 421.32 L201.42 421.33 L201.77 421.33 L202.11 421.33 L202.45 421.33 L202.79 421.33 L203.13 421.34 L203.48 421.34 L203.82 421.34 L204.16 421.34 L204.50 421.34 L204.85 421.34 L205.19 421.35 L205.53 421.35 L205.87 421.35 L206.21 421.35 L206.56 421.35 L206.90 421.36 L207.24 421.36 L207.58 421.36 L207.92 421.36 L208.27 421.36 L208.61 421.36 L208.95 421.37 L209.29 421.37 L209.63 421.37 L209.98 421.37 L210.32 421.37 L210.66 421.37 L211.00 421.38 L211.34 421.38 L211.69 421.38 L212.03 421.38 L212.37 421.38 L212.71 421.38 L213.06 421.38 L213.40 421.39 L213.74 421.39 L214.08 421.39 L214.42 421.39 L214.77 421.39 L215.11 421.39 L215.45 421.39 L215.79 421.39 L216.13 421.40 L216.48 421.40 L216.82 421.40 L217.16 421.40 L217.50 421.40 L217.84 421.40 L218.19 421.40 L218.53 421.41 L218.87 421.41 L219.21 421.41 L219.56 421.41 L219.90 421.41 L220.24 421.41 L220.58 421.41 L220.92 421.41 L221.27 421.41 L221.61 421.42 L221.95 421.42 L222.29 421.42 L222.63 421.42 L222.98 421.42 L223.32 421.42 L223.66 421.42 L224.00 421.42 L224.34 421.42 L224.69 421.43 L225.03 421.43 L225.37 421.43 L225.71 421.43 L226.06 421.43 L226.40 421.43 L226.74 421.43 L227.08 421.43 L227.42 421.43 L227.77 421.43 L228.11 421.44 L228.45 421.44" stroke="#9400d3" stroke-width="2" fill="none" stroke-linejoin="round"/>
<path d="M57.40 420.92 L57.74 420.90 L58.08 420.89 L58.43 420.88 L58.77 420.87 L59.11 420.86 L59.45 420.84 L59.79 420.83 L60.14 420.82 L60.48 420.80 L60.82 420.79 L61.16 420.77 L61.51 420.76 L61.85 420.74 L62.19 420.73 L62.53 420.71 L62.87 420.69 L63.22 420.67 L63.56 420.66 L63.90 420.64 L64.24 420.62 L64.58 420.60 L64.93 420.58 L65.27 420.56 L65.61 420.53 L65.95 420.51 L66.29 420.49 L66.64 420.46 L66.98 420.44 L67.32 420.41 L67.66 420.38 L68.01 420.35 L68.35 420.32 L68.69 420.29 L69.03 420.26 L69.37 420.23 L69.72 420.19 L70.06 420.15 L70.40 420.12 L70.74 420.07 L71.08 420.03 L71.43 419.99 L71.77 419.94 L72.11 419.88 L72.45 419.83 L72.79 419.77 L73.14 419.71 L73.48 419.64 L73.82 419.56 L74.16 419.48 L74.50 419.40 L74.85 419.30 L75.19 419.20 L75.53 419.08 L75.87 418.96 L76.22 418.82 L76.56 418.67 L76.90 418.51 L77.24 418.32 L77.58 418.12 L77.93 417.90 L78.27 417.65 L78.61 417.38 L78.95 417.09 L79.29 416.76 L79.64 416.41 L79.98 416.02 L80.32 415.59 L80.66 415.13 L81.00 414.63 L81.35 414.09 L81.69 413.51 L82.03 412.88 L82.37 412.21 L82.72 411.50 L83.06 410.73 L83.40 409.93 L83.74 409.08 L84.08 408.19 L84.43 407.25 L84.77 406.28 L85.11 405.27 L85.45 404.24 L85.79 403.17 L86.14 402.09 L86.48 400.99 L86.82 399.89 L87.16 398.79 L87.50 397.70 L87.85 396.64 L88.19 395.61 L88.53 394.62 L88.60 394.30 L91.40 388.30 L94.60 393.50 L94.69 393.65 L95.03 394.37 L95.37 395.12 L95.72 395.90 L96.06 396.69 L96.40 397.50 L96.74 398.32 L97.08 399.14 L97.43 399.95 L97.77 400.76 L98.11 401.55 L98.45 402.32 L98.79 403.07 L99.14 403.80 L99.48 404.50 L99.82 405.17 L100.16 405.80 L100.50 406.40 L100.85 406.97 L101.19 407.49 L101.53 407.98 L101.87 408.42 L102.22 408.82 L102.56 409.18 L102.90 409.49 L103.24 409.75 L103.58 409.97 L103.93 410.14 L104.27 410.26 L104.61 410.33 L104.95 410.36 L105.29 410.33 L105.64 410.25 L105.98 410.13 L106.32 409.95 L106.66 409.72 L107.00 409.45 L107.35 409.12 L107.69 408.74 L108.03 408.31 L108.37 407.84 L108.72 407.31 L109.06 406.74 L109.20 406.50 L116.10 274.60 L124.10 399.40 L124.11 399.31 L124.45 400.24 L124.79 401.16 L125.14 402.06 L125.48 402.93 L125.82 403.78 L126.16 404.61 L126.50 405.41 L126.85 406.18 L127.19 406.93 L127.53 407.64 L127.87 408.33 L128.21 408.98 L128.56 409.61 L128.90 410.21 L129.24 410.77 L129.58 411.31 L129.93 411.82 L130.27 412.31 L130.61 412.76 L130.95 413.20 L131.29 413.60 L131.64 413.99 L131.98 414.35 L132.32 414.69 L132.66 415.01 L133.00 415.31 L133.35 415.59 L133.69 415.85 L134.03 416.10 L134.37 416.33 L134.71 416.55 L135.06 416.75 L135.40 416.95 L135.74 417.13 L136.08 417.29 L136.43 417.45 L136.77 417.60 L137.11 417.74 L137.45 417.87 L137.79 418.00 L138.14 418.11 L138.48 418.22 L138.82 418.33 L139.16 418.43 L139.50 418.52 L139.85 418.61 L140.19 418.69 L140.53 418.77 L140.87 418.85 L141.21 418.92 L141.56 418.99 L141.90 419.06 L142.24 419.12 L142.58 419.18 L142.93 419.24 L143.27 419.30 L143.61 419.35 L143.95 419.40 L144.29 419.45 L144.64 419.50 L144.98 419.55 L145.32 419.59 L145.66 419.63 L146.00 419.68 L146.35 419.72 L146.69 419.75 L147.03 419.79 L147.37 419.83 L147.71 419.86 L148.06 419.90 L148.40 419.93 L148.74 419.96 L149.08 420.00 L149.42 420.03 L149.77 420.06 L150.11 420.08 L150.45 420.11 L150.79 420.14 L151.14 420.17 L151.48 420.19 L151.82 420.22 L152.16 420.24 L152.50 420.26 L152.85 420.29 L153.19 420.31 L153.53 420.33 L153.87 420.35 L154.21 420.37 L154.56 420.39 L154.90 420.41 L155.24 420.43 L155.58 420.45 L155.92 420.47 L156.27 420.49 L156.61 420.51 L156.95 420.52 L157.29 420.54 L157.64 420.56 L157.98 420.57 L158.32 420.59 L158.66 420.60 L159.00 420.62 L159.35 420.63 L159.69 420.64 L160.03 420.66 L160.37 420.67 L160.71 420.69 L161.06 420.70 L161.40 420.71 L161.74 420.72 L162.08 420.74 L162.42 420.75 L162.77 420.76 L163.11 420.77 L163.45 420.78 L163.79 420.79 L164.14 420.80 L164.48 420.81 L164.82 420.82 L165.16 420.83 L165.50 420.84 L165.85 420.85 L166.19 420.86 L166.53 420.87 L166.87 420.88 L167.21 420.89 L167.56 420.90 L167.90 420.91 L168.24 420.92 L168.58 420.92 L168.92 420.93 L169.27 420.94 L169.61 420.95 L169.95 420.96 L170.29 420.96 L170.64 420.97 L170.98 420.98 L171.32 420.98 L171.66 420.99 L172.00 421.00 L172.35 421.01 L172.69 421.01 L173.03 421.02 L173.37 421.02 L173.71 421.03 L174.06 421.04 L174.40 421.04 L174.74 421.05 L175.08 421.06 L175.42 421.06 L175.77 421.07 L176.11 421.07 L176.45 421.08 L176.79 421.08 L177.14 421.09 L177.48 421.09 L177.82 421.10 L178.16 421.10 L178.50 421.11 L178.85 421.11 L179.19 421.12 L179.53 421.12 L179.87 421.13 L180.21 421.13 L180.56 421.14 L180.90 421.14 L181.24 421.15 L181.58 421.15 L181.92 421.16 L182.27 421.16 L182.61 421.16 L182.95 421.17 L183.29 421.17 L183.63 421.18 L183.98 421.18 L184.32 421.18 L184.66 421.19 L185.00 421.19 L185.35 421.20 L185.69 421.20 L186.03 421.20 L186.37 421.21 L186.71 421.21 L187.06 421.21 L187.40 421.22 L187.74 421.22 L188.08 421.22 L188.42 421.23 L188.77 421.23 L189.11 421.23 L189.45 421.24 L189.79 421.24 L190.13 421.24 L190.48 421.25 L190.82 421.25 L191.16 421.25 L191.50 421.25 L191.85 421.26 L192.19 421.26 L192.53 421.26 L192.87 421.27 L193.21 421.27 L193.56 421.27 L193.90 421.27 L194.24 421.28 L194.58 421.28 L194.92 421.28 L195.27 421.28 L195.61 421.29 L195.95 421.29 L196.29 421.29 L196.63 421.29 L196.98 421.30 L197.32 421.30 L197.66 421.30 L198.00 421.30 L198.35 421.31 L198.69 421.31 L199.03 421.31 L199.37 421.31 L199.71 421.31 L200.06 421.32 L200.40 421.32 L200.74 421.32 L201.08 421.32 L201.42 421.32 L201.77 421.33 L202.11 421.33 L202.45 421.33 L202.79 421.33 L203.13 421.33 L203.48 421.34 L203.82 421.34 L204.16 421.34 L204.50 421.34 L204.85 421.34 L205.19 421.35 L205.53 421.35 L205.87 421.35 L206.21 421.35 L206.56 421.35 L206.90 421.35 L207.24 421.36 L207.58 421.36 L207.92 421.36 L208.27 421.36 L208.61 421.36 L208.95 421.36 L209.29 421.37 L209.63 421.37 L209.98 421.37 L210.32 421.37 L210.66 421.37 L211.00 421.37 L211.34 421.37 L211.69 421.38 L212.03 421.38 L212.37 421.38 L212.71 421.38 L213.06 421.38 L213.40 421.38 L213.74 421.38 L214.08 421.39 L214.42 421.39 L214.77 421.39 L215.11 421.39 L215.45 421.39 L215.79 421.39 L216.13 421.39 L216.48 421.40 L216.82 421.40 L217.16 421.40 L217.50 421.40 L217.84 421.40 L218.19 421.40 L218.53 421.40 L218.87 421.40 L219.21 421.40 L219.56 421.41 L219.90 421.41 L220.24 421.41 L220.58 421.41 L220.92 421.41 L221.27 421.41 L221.61 421.41 L221.95 421.41 L222.29 421.41 L222.63 421.42 L222.98 421.42 L223.32 421.42 L223.66 421.42 L224.00 421.42 L224.34 421.42 L224.69 421.42 L225.03 421.42 L225.37 421.42 L225.71 421.43 L226.06 421.43 L226.40 421.43 L226.74 421.43 L227.08 421.43 L227.42 421.43 L227.77 421.43 L228.11 421.43 L228.45 421.43" stroke="#009e73" stroke-width="2" fill="none" stroke-linejoin="round"/>
<rect x="359.00" y="251.30" width="171.05" height="170.85" fill="none" stroke="#7d7d7d" stroke-width="1.2"/>
<path d="M359.00 400.79h6M530.05 400.79h-6M359.00 379.44h6M530.05 379.44h-6M359.00 358.08h6M530.05 358.08h-6M359.00 336.73h6M530.05 336.73h-6M359.00 315.37h6M530.05 315.37h-6M359.00 294.01h6M530.05 294.01h-6M359.00 272.66h6M530.05 272.66h-6M393.21 422.15v-6M393.21 251.30v6M427.42 422.15v-6M427.42 251.30v6M461.63 422.15v-6M461.63 251.30v6M495.84 422.15v-6M495.84 251.30v6" stroke="#7d7d7d" stroke-width="1.2" fill="none"/>
<path d="M359.00 421.93 L359.34 421.92 L359.68 421.92 L360.03 421.91 L360.37 421.90 L360.71 421.89 L361.05 421.88 L361.39 421.87 L361.74 421.87 L362.08 421.86 L362.42 421.85 L362.76 421.84 L363.11 421.83 L363.45 421.82 L363.79 421.81 L364.13 421.80 L364.47 421.79 L364.82 421.78 L365.16 421.76 L365.50 421.75 L365.84 421.74 L366.18 421.73 L366.53 421.72 L366.87 421.70 L367.21 421.69 L367.55 421.67 L367.89 421.66 L368.24 421.65 L368.58 421.63 L368.92 421.61 L369.26 421.60 L369.61 421.58 L369.95 421.56 L370.29 421.54 L370.63 421.52 L370.97 421.50 L371.32 421.48 L371.66 421.45 L372.00 421.42 L372.34 421.40 L372.68 421.37 L373.03 421.33 L373.37 421.29 L373.71 421.25 L374.05 421.21 L374.39 421.16 L374.74 421.11 L375.08 421.04 L375.42 420.98 L375.76 420.90 L376.11 420.81 L376.45 420.72 L376.79 420.60 L377.13 420.48 L377.47 420.34 L377.82 420.18 L378.16 420.00 L378.50 419.80 L378.84 419.58 L379.18 419.32 L379.53 419.04 L379.87 418.72 L380.21 418.36 L380.55 417.96 L380.89 417.52 L381.24 417.03 L381.58 416.49 L381.92 415.90 L382.26 415.25 L382.60 414.53 L382.95 413.75 L383.29 412.91 L383.63 411.99 L383.97 411.01 L384.32 409.94 L384.66 408.81 L385.00 407.60 L385.34 406.31 L385.68 404.95 L386.03 403.52 L386.37 402.02 L386.71 400.45 L387.05 398.82 L387.39 397.13 L387.74 395.40 L388.08 393.62 L388.42 391.82 L388.70 390.30 L393.10 360.00 L395.60 366.10 L399.20 382.30 L399.37 383.22 L399.71 385.05 L400.05 386.85 L400.39 388.62 L400.74 390.33 L401.08 391.98 L401.42 393.56 L401.76 395.06 L402.10 396.49 L402.45 397.83 L402.79 399.07 L403.13 400.23 L403.47 401.29 L403.82 402.26 L404.16 403.13 L404.50 403.91 L404.84 404.58 L405.18 405.17 L405.53 405.65 L405.87 406.03 L406.21 406.31 L406.55 406.49 L406.89 406.56 L407.24 406.52 L407.58 406.35 L407.92 406.06 L408.26 405.64 L408.60 405.07 L408.95 404.34 L409.29 403.45 L409.63 402.37 L409.97 401.09 L410.31 399.60 L410.66 397.89 L411.00 395.93 L411.34 393.72 L411.68 391.25 L412.03 388.51 L412.20 387.10 L418.00 345.30 L423.50 391.20 L423.66 392.63 L424.00 395.12 L424.34 397.36 L424.68 399.37 L425.03 401.18 L425.37 402.80 L425.71 404.26 L426.05 405.56 L426.39 406.73 L426.74 407.78 L427.08 408.73 L427.42 409.58 L427.76 410.35 L428.10 411.05 L428.45 411.68 L428.79 412.26 L429.13 412.79 L429.47 413.28 L429.81 413.73 L430.16 414.14 L430.50 414.52 L430.84 414.88 L431.18 415.21 L431.53 415.52 L431.87 415.81 L432.21 416.08 L432.55 416.33 L432.89 416.57 L433.24 416.80 L433.58 417.01 L433.92 417.21 L434.26 417.40 L434.60 417.58 L434.95 417.74 L435.29 417.90 L435.63 418.06 L435.97 418.20 L436.31 418.34 L436.66 418.47 L437.00 418.59 L437.34 418.71 L437.68 418.82 L438.03 418.93 L438.37 419.03 L438.71 419.13 L439.05 419.22 L439.39 419.31 L439.74 419.40 L440.08 419.48 L440.42 419.56 L440.76 419.64 L441.10 419.71 L441.45 419.78 L441.79 419.85 L442.13 419.91 L442.47 419.97 L442.81 420.03 L443.16 420.09 L443.50 420.14 L443.84 420.20 L444.18 420.25 L444.52 420.30 L444.87 420.35 L445.21 420.39 L445.55 420.44 L445.89 420.48 L446.24 420.52 L446.58 420.56 L446.92 420.60 L447.26 420.64 L447.60 420.68 L447.95 420.71 L448.29 420.75 L448.63 420.78 L448.97 420.81 L449.31 420.85 L449.66 420.88 L450.00 420.91 L450.34 420.93 L450.68 420.96 L451.02 420.99 L451.37 421.02 L451.71 421.04 L452.05 421.07 L452.39 421.09 L452.74 421.11 L453.08 421.14 L453.42 421.16 L453.76 421.18 L454.10 421.20 L454.45 421.22 L454.79 421.24 L455.13 421.26 L455.47 421.28 L455.81 421.30 L456.16 421.32 L456.50 421.34 L456.84 421.35 L457.18 421.37 L457.52 421.39 L457.87 421.40 L458.21 421.42 L458.55 421.44 L458.89 421.45 L459.24 421.47 L459.58 421.48 L459.92 421.49 L460.26 421.51 L460.60 421.52 L460.95 421.53 L461.29 421.55 L461.63 421.56 L461.97 421.57 L462.31 421.58 L462.66 421.60 L463.00 421.61 L463.34 421.62 L463.68 421.63 L464.02 421.64 L464.37 421.65 L464.71 421.66 L465.05 421.67 L465.39 421.68 L465.74 421.69 L466.08 421.70 L466.42 421.71 L466.76 421.72 L467.10 421.73 L467.45 421.74 L467.79 421.75 L468.13 421.75 L468.47 421.76 L468.81 421.77 L469.16 421.78 L469.50 421.79 L469.84 421.80 L470.18 421.80 L470.52 421.81 L470.87 421.82 L471.21 421.83 L471.55 421.83 L471.89 421.84 L472.24 421.85 L472.58 421.85 L472.92 421.86 L473.26 421.87 L473.60 421.87 L473.95 421.88 L474.29 421.89 L474.63 421.89 L474.97 421.90 L475.31 421.90 L475.66 421.91 L476.00 421.91 L476.34 421.92 L476.68 421.93 L477.02 421.93 L477.37 421.94 L477.71 421.94 L478.05 421.95 L478.39 421.95 L478.73 421.96 L479.08 421.96 L479.42 421.97 L479.76 421.97 L480.10 421.98 L480.45 421.98 L480.79 421.99 L481.13 421.99 L481.47 421.99 L481.81 422.00 L482.16 422.00 L482.50 422.01 L482.84 422.01 L483.18 422.02 L483.52 422.02 L483.87 422.02 L484.21 422.03 L484.55 422.03 L484.89 422.04 L485.23 422.04 L485.58 422.04 L485.92 422.05 L486.26 422.05 L486.60 422.05 L486.95 422.06 L487.29 422.06 L487.63 422.06 L487.97 422.07 L488.31 422.07 L488.66 422.07 L489.00 422.08 L489.34 422.08 L489.68 422.08 L490.02 422.09 L490.37 422.09 L490.71 422.09 L491.05 422.10 L491.39 422.10 L491.73 422.10 L492.08 422.11 L492.42 422.11 L492.76 422.11 L493.10 422.11 L493.45 422.12 L493.79 422.12 L494.13 422.12 L494.47 422.12 L494.81 422.13 L495.16 422.13 L495.50 422.13 L495.84 422.13 L496.18 422.14 L496.52 422.14 L496.87 422.14 L497.21 422.14 L497.55 422.15 L497.89 422.15 L498.23 422.15 L498.58 422.15 L498.92 422.16 L499.26 422.16 L499.60 422.16 L499.95 422.16 L500.29 422.16 L500.63 422.17 L500.97 422.17 L501.31 422.17 L501.66 422.17 L502.00 422.18 L502.34 422.18 L502.68 422.18 L503.02 422.18 L503.37 422.18 L503.71 422.19 L504.05 422.19 L504.39 422.19 L504.73 422.19 L505.08 422.19 L505.42 422.19 L505.76 422.20 L506.10 422.20 L506.45 422.20 L506.79 422.20 L507.13 422.20 L507.47 422.20 L507.81 422.21 L508.16 422.21 L508.50 422.21 L508.84 422.21 L509.18 422.21 L509.52 422.21 L509.87 422.22 L510.21 422.22 L510.55 422.22 L510.89 422.22 L511.23 422.22 L511.58 422.22 L511.92 422.23 L512.26 422.23 L512.60 422.23 L512.94 422.23 L513.29 422.23 L513.63 422.23 L513.97 422.23 L514.31 422.24 L514.66 422.24 L515.00 422.24 L515.34 422.24 L515.68 422.24 L516.02 422.24 L516.37 422.24 L516.71 422.24 L517.05 422.25 L517.39 422.25 L517.73 422.25 L518.08 422.25 L518.42 422.25 L518.76 422.25 L519.10 422.25 L519.44 422.25 L519.79 422.26 L520.13 422.26 L520.47 422.26 L520.81 422.26 L521.16 422.26 L521.50 422.26 L521.84 422.26 L522.18 422.26 L522.52 422.26 L522.87 422.27 L523.21 422.27 L523.55 422.27 L523.89 422.27 L524.23 422.27 L524.58 422.27 L524.92 422.27 L525.26 422.27 L525.60 422.27 L525.94 422.28 L526.29 422.28 L526.63 422.28 L526.97 422.28 L527.31 422.28 L527.66 422.28 L528.00 422.28 L528.34 422.28 L528.68 422.28 L529.02 422.28 L529.37 422.29 L529.71 422.29 L530.05 422.29" stroke="#9400d3" stroke-width="2" fill="none" stroke-linejoin="round"/>
<path d="M359.00 421.95 L359.34 421.94 L359.68 421.93 L360.03 421.92 L360.37 421.91 L360.71 421.90 L361.05 421.89 L361.39 421.88 L361.74 421.87 L362.08 421.86 L362.42 421.85 L362.76 421.84 L363.11 421.83 L363.45 421.82 L363.79 421.81 L364.13 421.79 L364.47 421.78 L364.82 421.77 L365.16 421.75 L365.50 421.74 L365.84 421.73 L366.18 421.71 L366.53 421.70 L366.87 421.68 L367.21 421.66 L367.55 421.65 L367.89 421.63 L368.24 421.61 L368.58 421.59 L368.92 421.57 L369.26 421.55 L369.61 421.53 L369.95 421.51 L370.29 421.48 L370.63 421.46 L370.97 421.43 L371.32 421.41 L371.66 421.38 L372.00 421.35 L372.34 421.32 L372.68 421.28 L373.03 421.25 L373.37 421.21 L373.71 421.17 L374.05 421.12 L374.39 421.07 L374.74 421.02 L375.08 420.97 L375.42 420.90 L375.76 420.84 L376.11 420.76 L376.45 420.68 L376.79 420.59 L377.13 420.49 L377.47 420.37 L377.82 420.25 L378.16 420.11 L378.50 419.96 L378.84 419.79 L379.18 419.60 L379.53 419.39 L379.87 419.16 L380.21 418.90 L380.55 418.61 L380.89 418.30 L381.24 417.95 L381.58 417.58 L381.92 417.16 L382.26 416.71 L382.60 416.22 L382.95 415.69 L383.29 415.11 L383.63 414.50 L383.97 413.83 L384.32 413.13 L384.66 412.38 L385.00 411.58 L385.34 410.75 L385.68 409.87 L386.03 408.95 L386.37 408.00 L386.71 407.02 L387.05 406.00 L387.39 404.97 L387.74 403.92 L388.08 402.86 L388.42 401.79 L388.76 400.73 L389.10 399.68 L389.45 398.66 L389.79 397.67 L390.13 396.73 L390.47 395.85 L390.50 395.80 L393.20 389.80 L396.20 395.00 L396.29 395.15 L396.63 395.80 L396.97 396.48 L397.32 397.19 L397.66 397.93 L398.00 398.68 L398.34 399.44 L398.68 400.22 L399.03 400.99 L399.37 401.75 L399.71 402.51 L400.05 403.26 L400.39 403.99 L400.74 404.70 L401.08 405.39 L401.42 406.05 L401.76 406.69 L402.10 407.29 L402.45 407.86 L402.79 408.39 L403.13 408.89 L403.47 409.34 L403.82 409.75 L404.16 410.12 L404.50 410.43 L404.84 410.69 L405.18 410.89 L405.53 411.02 L405.87 411.08 L406.21 411.06 L406.55 410.94 L406.89 410.72 L407.24 410.38 L407.58 409.90 L407.92 409.27 L408.26 408.47 L408.60 407.48 L408.95 406.27 L409.29 404.82 L409.63 403.11 L409.97 401.12 L410.31 398.83 L410.66 396.24 L411.00 393.32 L411.20 391.20 L417.70 275.10 L425.50 387.10 L425.71 388.80 L426.05 390.90 L426.39 392.90 L426.74 394.81 L427.08 396.61 L427.42 398.32 L427.76 399.93 L428.10 401.44 L428.45 402.86 L428.79 404.19 L429.13 405.43 L429.47 406.58 L429.81 407.65 L430.16 408.64 L430.50 409.56 L430.84 410.41 L431.18 411.19 L431.53 411.91 L431.87 412.57 L432.21 413.17 L432.55 413.73 L432.89 414.24 L433.24 414.70 L433.58 415.13 L433.92 415.52 L434.26 415.87 L434.60 416.20 L434.95 416.50 L435.29 416.77 L435.63 417.03 L435.97 417.26 L436.31 417.47 L436.66 417.67 L437.00 417.85 L437.34 418.02 L437.68 418.17 L438.03 418.32 L438.37 418.45 L438.71 418.58 L439.05 418.70 L439.39 418.81 L439.74 418.92 L440.08 419.02 L440.42 419.11 L440.76 419.20 L441.10 419.28 L441.45 419.37 L441.79 419.44 L442.13 419.52 L442.47 419.59 L442.81 419.66 L443.16 419.72 L443.50 419.78 L443.84 419.84 L444.18 419.90 L444.52 419.96 L444.87 420.01 L445.21 420.06 L445.55 420.11 L445.89 420.16 L446.24 420.21 L446.58 420.26 L446.92 420.30 L447.26 420.34 L447.60 420.39 L447.95 420.43 L448.29 420.47 L448.63 420.50 L448.97 420.54 L449.31 420.58 L449.66 420.61 L450.00 420.65 L450.34 420.68 L450.68 420.71 L451.02 420.74 L451.37 420.77 L451.71 420.80 L452.05 420.83 L452.39 420.86 L452.74 420.89 L453.08 420.91 L453.42 420.94 L453.76 420.96 L454.10 420.99 L454.45 421.01 L454.79 421.04 L455.13 421.06 L455.47 421.08 L455.81 421.10 L456.16 421.13 L456.50 421.15 L456.84 421.17 L457.18 421.19 L457.52 421.21 L457.87 421.22 L458.21 421.24 L458.55 421.26 L458.89 421.28 L459.24 421.30 L459.58 421.31 L459.92 421.33 L460.26 421.35 L460.60 421.36 L460.95 421.38 L461.29 421.39 L461.63 421.41 L461.97 421.42 L462.31 421.44 L462.66 421.45 L463.00 421.46 L463.34 421.48 L463.68 421.49 L464.02 421.50 L464.37 421.51 L464.71 421.53 L465.05 421.54 L465.39 421.55 L465.74 421.56 L466.08 421.57 L466.42 421.59 L466.76 421.60 L467.10 421.61 L467.45 421.62 L467.79 421.63 L468.13 421.64 L468.47 421.65 L468.81 421.66 L469.16 421.67 L469.50 421.68 L469.84 421.69 L470.18 421.69 L470.52 421.70 L470.87 421.71 L471.21 421.72 L471.55 421.73 L471.89 421.74 L472.24 421.75 L472.58 421.75 L472.92 421.76 L473.26 421.77 L473.60 421.78 L473.95 421.78 L474.29 421.79 L474.63 421.80 L474.97 421.81 L475.31 421.81 L475.66 421.82 L476.00 421.83 L476.34 421.83 L476.68 421.84 L477.02 421.85 L477.37 421.85 L477.71 421.86 L478.05 421.87 L478.39 421.87 L478.73 421.88 L479.08 421.88 L479.42 421.89 L479.76 421.90 L480.10 421.90 L480.45 421.91 L480.79 421.91 L481.13 421.92 L481.47 421.92 L481.81 421.93 L482.16 421.93 L482.50 421.94 L482.84 421.94 L483.18 421.95 L483.52 421.95 L483.87 421.96 L484.21 421.96 L484.55 421.97 L484.89 421.97 L485.23 421.98 L485.58 421.98 L485.92 421.98 L486.26 421.99 L486.60 421.99 L486.95 422.00 L487.29 422.00 L487.63 422.01 L487.97 422.01 L488.31 422.01 L488.66 422.02 L489.00 422.02 L489.34 422.02 L489.68 422.03 L490.02 422.03 L490.37 422.04 L490.71 422.04 L491.05 422.04 L491.39 422.05 L491.73 422.05 L492.08 422.05 L492.42 422.06 L492.76 422.06 L493.10 422.06 L493.45 422.07 L493.79 422.07 L494.13 422.07 L494.47 422.08 L494.81 422.08 L495.16 422.08 L495.50 422.09 L495.84 422.09 L496.18 422.09 L496.52 422.09 L496.87 422.10 L497.21 422.10 L497.55 422.10 L497.89 422.11 L498.23 422.11 L498.58 422.11 L498.92 422.11 L499.26 422.12 L499.60 422.12 L499.95 422.12 L500.29 422.12 L500.63 422.13 L500.97 422.13 L501.31 422.13 L501.66 422.13 L502.00 422.14 L502.34 422.14 L502.68 422.14 L503.02 422.14 L503.37 422.15 L503.71 422.15 L504.05 422.15 L504.39 422.15 L504.73 422.15 L505.08 422.16 L505.42 422.16 L505.76 422.16 L506.10 422.16 L506.45 422.17 L506.79 422.17 L507.13 422.17 L507.47 422.17 L507.81 422.17 L508.16 422.18 L508.50 422.18 L508.84 422.18 L509.18 422.18 L509.52 422.18 L509.87 422.18 L510.21 422.19 L510.55 422.19 L510.89 422.19 L511.23 422.19 L511.58 422.19 L511.92 422.20 L512.26 422.20 L512.60 422.20 L512.94 422.20 L513.29 422.20 L513.63 422.20 L513.97 422.21 L514.31 422.21 L514.66 422.21 L515.00 422.21 L515.34 422.21 L515.68 422.21 L516.02 422.22 L516.37 422.22 L516.71 422.22 L517.05 422.22 L517.39 422.22 L517.73 422.22 L518.08 422.22 L518.42 422.23 L518.76 422.23 L519.10 422.23 L519.44 422.23 L519.79 422.23 L520.13 422.23 L520.47 422.23 L520.81 422.24 L521.16 422.24 L521.50 422.24 L521.84 422.24 L522.18 422.24 L522.52 422.24 L522.87 422.24 L523.21 422.24 L523.55 422.25 L523.89 422.25 L524.23 422.25 L524.58 422.25 L524.92 422.25 L525.26 422.25 L525.60 422.25 L525.94 422.25 L526.29 422.26 L526.63 422.26 L526.97 422.26 L527.31 422.26 L527.66 422.26 L528.00 422.26 L528.34 422.26 L528.68 422.26 L529.02 422.26 L529.37 422.27 L529.71 422.27 L530.05 422.27" stroke="#009e73" stroke-width="2" fill="none" stroke-linejoin="round"/>
<path d="M63.00 23.80H98.20" stroke="#9400d3" stroke-width="2"/>
<path d="M63.00 46.50H98.20" stroke="#009e73" stroke-width="2"/>
<path d="M362.00 23.00H397.00" stroke="#9400d3" stroke-width="2"/>
<path d="M362.00 46.00H397.00" stroke="#009e73" stroke-width="2"/>
<path d="M180.00 271.00H214.60" stroke="#9400d3" stroke-width="2"/>
<path d="M180.00 295.00H214.60" stroke="#009e73" stroke-width="2"/>
<path d="M483.00 273.40H517.40" stroke="#9400d3" stroke-width="2"/>
<path d="M483.00 297.00H517.40" stroke="#009e73" stroke-width="2"/>
<rect x="63.80" y="85.50" width="72.00" height="16.70" fill="#fff"/>
<rect x="357.00" y="106.90" width="71.90" height="16.00" fill="#fff"/>
<rect x="125.70" y="338.40" width="72.30" height="16.00" fill="#fff"/>
<rect x="438.60" y="344.00" width="71.60" height="16.00" fill="#fff"/>
<text class="t" x="53.00" y="196.34" text-anchor="middle" textLength="13.79" lengthAdjust="spacingAndGlyphs">−9</text>
<text class="t" x="87.22" y="196.20" text-anchor="middle" textLength="24.14" lengthAdjust="spacingAndGlyphs">−9.5</text>
<text class="t" x="121.36" y="196.46" text-anchor="middle" textLength="19.56" lengthAdjust="spacingAndGlyphs">−10</text>
<text class="t" x="155.64" y="196.20" text-anchor="middle" textLength="30.38" lengthAdjust="spacingAndGlyphs">−10.5</text>
<text class="t" x="190.35" y="196.28" text-anchor="middle" textLength="19.88" lengthAdjust="spacingAndGlyphs">−11</text>
<text class="t" x="224.18" y="196.20" text-anchor="middle" textLength="31.52" lengthAdjust="spacingAndGlyphs">−11.5</text>
<text class="t" x="47.61" y="182.29" text-anchor="end" textLength="7.94" lengthAdjust="spacingAndGlyphs">0</text>
<text class="t" x="47.62" y="154.58" text-anchor="end" textLength="15.76" lengthAdjust="spacingAndGlyphs">10</text>
<text class="t" x="47.57" y="125.84" text-anchor="end" textLength="14.54" lengthAdjust="spacingAndGlyphs">20</text>
<text class="t" x="47.72" y="97.17" text-anchor="end" textLength="14.74" lengthAdjust="spacingAndGlyphs">30</text>
<text class="t" x="47.66" y="68.90" text-anchor="end" textLength="14.28" lengthAdjust="spacingAndGlyphs">40</text>
<text class="t" x="47.76" y="40.38" text-anchor="end" textLength="15.05" lengthAdjust="spacingAndGlyphs">50</text>
<text class="t" x="47.76" y="11.68" text-anchor="end" textLength="14.83" lengthAdjust="spacingAndGlyphs">60</text>
<text class="t" x="354.93" y="196.29" text-anchor="middle" textLength="13.77" lengthAdjust="spacingAndGlyphs">−9</text>
<text class="t" x="389.17" y="196.20" text-anchor="middle" textLength="24.08" lengthAdjust="spacingAndGlyphs">−9.5</text>
<text class="t" x="423.42" y="196.62" text-anchor="middle" textLength="19.65" lengthAdjust="spacingAndGlyphs">−10</text>
<text class="t" x="457.45" y="196.20" text-anchor="middle" textLength="30.37" lengthAdjust="spacingAndGlyphs">−10.5</text>
<text class="t" x="492.33" y="196.07" text-anchor="middle" textLength="20.14" lengthAdjust="spacingAndGlyphs">−11</text>
<text class="t" x="525.98" y="196.20" text-anchor="middle" textLength="31.55" lengthAdjust="spacingAndGlyphs">−11.5</text>
<text class="t" x="348.63" y="184.10" text-anchor="end" textLength="8.01" lengthAdjust="spacingAndGlyphs">0</text>
<text class="t" x="348.60" y="155.25" text-anchor="end" textLength="16.05" lengthAdjust="spacingAndGlyphs">10</text>
<text class="t" x="348.45" y="126.93" text-anchor="end" textLength="14.63" lengthAdjust="spacingAndGlyphs">20</text>
<text class="t" x="348.55" y="98.31" text-anchor="end" textLength="14.94" lengthAdjust="spacingAndGlyphs">30</text>
<text class="t" x="348.50" y="70.44" text-anchor="end" textLength="14.39" lengthAdjust="spacingAndGlyphs">40</text>
<text class="t" x="348.52" y="42.17" text-anchor="end" textLength="14.98" lengthAdjust="spacingAndGlyphs">50</text>
<text class="t" x="348.58" y="13.09" text-anchor="end" textLength="14.95" lengthAdjust="spacingAndGlyphs">60</text>
<text class="t" x="56.44" y="437.37" text-anchor="middle" textLength="13.98" lengthAdjust="spacingAndGlyphs">−9</text>
<text class="t" x="90.69" y="437.46" text-anchor="middle" textLength="24.27" lengthAdjust="spacingAndGlyphs">−9.5</text>
<text class="t" x="124.88" y="437.42" text-anchor="middle" textLength="19.47" lengthAdjust="spacingAndGlyphs">−10</text>
<text class="t" x="159.15" y="437.46" text-anchor="middle" textLength="29.98" lengthAdjust="spacingAndGlyphs">−10.5</text>
<text class="t" x="193.63" y="437.81" text-anchor="middle" textLength="19.86" lengthAdjust="spacingAndGlyphs">−11</text>
<text class="t" x="227.58" y="437.46" text-anchor="middle" textLength="31.77" lengthAdjust="spacingAndGlyphs">−11.5</text>
<text class="t" x="50.63" y="425.34" text-anchor="end" textLength="8.01" lengthAdjust="spacingAndGlyphs">0</text>
<text class="t" x="50.56" y="404.60" text-anchor="end" textLength="15.05" lengthAdjust="spacingAndGlyphs">50</text>
<text class="t" x="50.46" y="382.84" text-anchor="end" textLength="22.43" lengthAdjust="spacingAndGlyphs">100</text>
<text class="t" x="50.46" y="361.94" text-anchor="end" textLength="22.43" lengthAdjust="spacingAndGlyphs">150</text>
<text class="t" x="50.54" y="340.41" text-anchor="end" textLength="21.60" lengthAdjust="spacingAndGlyphs">200</text>
<text class="t" x="50.54" y="318.48" text-anchor="end" textLength="21.60" lengthAdjust="spacingAndGlyphs">250</text>
<text class="t" x="50.48" y="297.18" text-anchor="end" textLength="21.48" lengthAdjust="spacingAndGlyphs">300</text>
<text class="t" x="50.48" y="275.82" text-anchor="end" textLength="21.48" lengthAdjust="spacingAndGlyphs">350</text>
<text class="t" x="50.43" y="254.68" text-anchor="end" textLength="21.04" lengthAdjust="spacingAndGlyphs">400</text>
<text class="t" x="360.40" y="439.81" text-anchor="middle" textLength="14.02" lengthAdjust="spacingAndGlyphs">−9</text>
<text class="t" x="394.68" y="440.74" text-anchor="middle" textLength="24.35" lengthAdjust="spacingAndGlyphs">−9.5</text>
<text class="t" x="428.90" y="440.56" text-anchor="middle" textLength="19.47" lengthAdjust="spacingAndGlyphs">−10</text>
<text class="t" x="463.13" y="440.74" text-anchor="middle" textLength="29.98" lengthAdjust="spacingAndGlyphs">−10.5</text>
<text class="t" x="497.91" y="439.99" text-anchor="middle" textLength="20.18" lengthAdjust="spacingAndGlyphs">−11</text>
<text class="t" x="531.58" y="440.74" text-anchor="middle" textLength="31.77" lengthAdjust="spacingAndGlyphs">−11.5</text>
<text class="t" x="351.99" y="425.82" text-anchor="end" textLength="7.88" lengthAdjust="spacingAndGlyphs">0</text>
<text class="t" x="352.04" y="404.68" text-anchor="end" textLength="14.87" lengthAdjust="spacingAndGlyphs">50</text>
<text class="t" x="352.04" y="383.41" text-anchor="end" textLength="22.42" lengthAdjust="spacingAndGlyphs">100</text>
<text class="t" x="352.04" y="362.09" text-anchor="end" textLength="22.42" lengthAdjust="spacingAndGlyphs">150</text>
<text class="t" x="351.97" y="340.64" text-anchor="end" textLength="21.41" lengthAdjust="spacingAndGlyphs">200</text>
<text class="t" x="351.97" y="319.49" text-anchor="end" textLength="21.41" lengthAdjust="spacingAndGlyphs">250</text>
<text class="t" x="352.12" y="298.18" text-anchor="end" textLength="21.85" lengthAdjust="spacingAndGlyphs">300</text>
<text class="t" x="352.12" y="276.90" text-anchor="end" textLength="21.85" lengthAdjust="spacingAndGlyphs">350</text>
<text class="t" x="351.93" y="255.37" text-anchor="end" textLength="21.11" lengthAdjust="spacingAndGlyphs">400</text>
<text class="lab" x="139.53" y="217.06" text-anchor="middle" textLength="122.14" lengthAdjust="spacingAndGlyphs">Chemical Shift (ppm)</text>
<text class="lab" x="440.19" y="217.46" text-anchor="middle" textLength="121.06" lengthAdjust="spacingAndGlyphs">Chemical Shift (ppm)</text>
<text class="lab" x="143.11" y="459.14" text-anchor="middle" textLength="121.08" lengthAdjust="spacingAndGlyphs">Chemical Shift (ppm)</text>
<text class="lab" x="444.71" y="460.40" text-anchor="middle" textLength="120.68" lengthAdjust="spacingAndGlyphs">Chemical Shift (ppm)</text>
<text class="lab" transform="translate(18.29 93.06) rotate(-90)" text-anchor="middle" textLength="156.00" lengthAdjust="spacingAndGlyphs">Intensity (× 10<tspan dy="-4.5" font-size="9.5">3</tspan><tspan dy="4.5">; arb. units)</tspan></text>
<text class="lab" transform="translate(319.52 94.18) rotate(-90)" text-anchor="middle" textLength="157.44" lengthAdjust="spacingAndGlyphs">Intensity (× 10<tspan dy="-4.5" font-size="9.5">3</tspan><tspan dy="4.5">; arb. units)</tspan></text>
<text class="lab" transform="translate(14.84 335.44) rotate(-90)" text-anchor="middle" textLength="155.88" lengthAdjust="spacingAndGlyphs">Intensity (× 10<tspan dy="-4.5" font-size="9.5">3</tspan><tspan dy="4.5">; arb. units)</tspan></text>
<text class="lab" transform="translate(316.76 336.53) rotate(-90)" text-anchor="middle" textLength="156.74" lengthAdjust="spacingAndGlyphs">Intensity (× 10<tspan dy="-4.5" font-size="9.5">3</tspan><tspan dy="4.5">; arb. units)</tspan></text>
<text class="leg" x="103.28" y="22.56" text-anchor="start" textLength="43.15" lengthAdjust="spacingAndGlyphs" fill="#a043ae" stroke="#a043ae">28.2 bar</text>
<text class="leg" x="103.24" y="34.73" text-anchor="start" textLength="30.33" lengthAdjust="spacingAndGlyphs" fill="#a043ae" stroke="#a043ae">307 K</text>
<text class="leg" x="100.81" y="46.53" text-anchor="start" textLength="43.88" lengthAdjust="spacingAndGlyphs" fill="#34a954" stroke="#34a954">32.6 bar</text>
<text class="leg" x="100.85" y="58.43" text-anchor="start" textLength="31.10" lengthAdjust="spacingAndGlyphs" fill="#34a954" stroke="#34a954">346 K</text>
<text class="leg" x="402.33" y="21.54" text-anchor="start" textLength="42.88" lengthAdjust="spacingAndGlyphs" fill="#a043ae" stroke="#a043ae">28.2 bar</text>
<text class="leg" x="402.38" y="34.38" text-anchor="start" textLength="30.47" lengthAdjust="spacingAndGlyphs" fill="#a043ae" stroke="#a043ae">307 K</text>
<text class="leg" x="399.82" y="45.62" text-anchor="start" textLength="43.31" lengthAdjust="spacingAndGlyphs" fill="#34a954" stroke="#34a954">32.6 bar</text>
<text class="leg" x="399.91" y="58.48" text-anchor="start" textLength="30.56" lengthAdjust="spacingAndGlyphs" fill="#34a954" stroke="#34a954">346 K</text>
<text class="leg" x="126.11" y="266.54" text-anchor="start" textLength="49.94" lengthAdjust="spacingAndGlyphs" fill="#a043ae" stroke="#a043ae">112.7 bar</text>
<text class="leg" x="126.93" y="279.54" text-anchor="start" textLength="30.35" lengthAdjust="spacingAndGlyphs" fill="#a043ae" stroke="#a043ae">307 K</text>
<text class="leg" x="123.40" y="292.43" text-anchor="start" textLength="50.70" lengthAdjust="spacingAndGlyphs" fill="#34a954" stroke="#34a954">130.3 bar</text>
<text class="leg" x="124.32" y="305.63" text-anchor="start" textLength="30.71" lengthAdjust="spacingAndGlyphs" fill="#34a954" stroke="#34a954">346 K</text>
<text class="leg" x="428.62" y="268.55" text-anchor="start" textLength="49.79" lengthAdjust="spacingAndGlyphs" fill="#a043ae" stroke="#a043ae">112.7 bar</text>
<text class="leg" x="429.38" y="281.54" text-anchor="start" textLength="30.47" lengthAdjust="spacingAndGlyphs" fill="#a043ae" stroke="#a043ae">307 K</text>
<text class="leg" x="426.41" y="294.43" text-anchor="start" textLength="49.82" lengthAdjust="spacingAndGlyphs" fill="#34a954" stroke="#34a954">130.3 bar</text>
<text class="leg" x="427.30" y="307.64" text-anchor="start" textLength="30.29" lengthAdjust="spacingAndGlyphs" fill="#34a954" stroke="#34a954">346 K</text>
<text class="sil" x="67.01" y="97.96" text-anchor="start" textLength="65.48" lengthAdjust="spacingAndGlyphs">Silica - 1.5 nm</text>
<text class="sil" x="360.27" y="119.30" text-anchor="start" textLength="65.41" lengthAdjust="spacingAndGlyphs">Silica - 2.5 nm</text>
<text class="sil" x="128.92" y="350.80" text-anchor="start" textLength="65.83" lengthAdjust="spacingAndGlyphs">Silica - 1.5 nm</text>
<text class="sil" x="441.90" y="356.56" text-anchor="start" textLength="64.97" lengthAdjust="spacingAndGlyphs">Silica - 2.5 nm</text>
</svg></body></html>
